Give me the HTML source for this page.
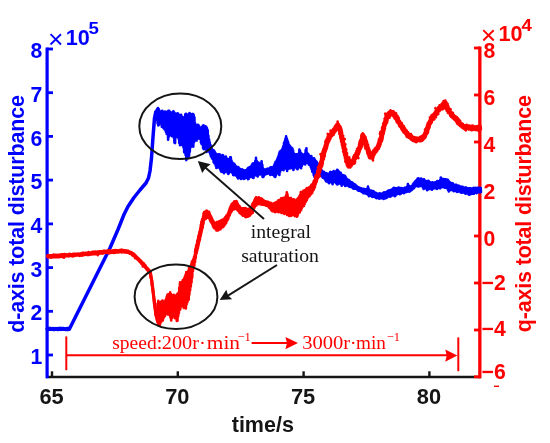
<!DOCTYPE html>
<html><head><meta charset="utf-8"><title>disturbance plot</title>
<style>
html,body{margin:0;padding:0;background:#fff;}
svg{display:block}
.ab{font-family:"Liberation Sans",sans-serif;font-weight:bold;}
.tr{font-family:"Liberation Serif",serif;}
</style></head><body>
<svg width="550" height="443" viewBox="0 0 550 443">
<rect width="550" height="443" fill="#fff"/>
<!-- x axis -->
<g stroke="#151515" stroke-width="2.4" fill="none">
<line x1="46" y1="377" x2="481" y2="377"/>
<line x1="52" y1="371.3" x2="52" y2="377"/>
<line x1="177.8" y1="371.3" x2="177.8" y2="377"/>
<line x1="303.6" y1="371.3" x2="303.6" y2="377"/>
<line x1="429.4" y1="371.3" x2="429.4" y2="377"/>
</g>
<!-- left axis -->
<g stroke="#0000ff" stroke-width="3.2" fill="none">
<line x1="47.1" y1="47.6" x2="47.1" y2="378.2"/>
</g>
<g stroke="#0000ff" stroke-width="2.8" fill="none">
<line x1="47" y1="49" x2="53" y2="49"/>
<line x1="47" y1="92.7" x2="53" y2="92.7"/>
<line x1="47" y1="136.4" x2="53" y2="136.4"/>
<line x1="47" y1="180.1" x2="53" y2="180.1"/>
<line x1="47" y1="223.9" x2="53" y2="223.9"/>
<line x1="47" y1="267.6" x2="53" y2="267.6"/>
<line x1="47" y1="311.3" x2="53" y2="311.3"/>
<line x1="47" y1="355" x2="53" y2="355"/>
</g>
<!-- right axis -->
<g stroke="#ff0000" stroke-width="3.3" fill="none">
<line x1="479.85" y1="46.6" x2="479.85" y2="378.2"/>
</g>
<g stroke="#ff0000" stroke-width="2.8" fill="none">
<line x1="474" y1="48" x2="480" y2="48"/>
<line x1="474" y1="95" x2="480" y2="95"/>
<line x1="474" y1="142" x2="480" y2="142"/>
<line x1="474" y1="189" x2="480" y2="189"/>
<line x1="474" y1="236" x2="480" y2="236"/>
<line x1="474" y1="283" x2="480" y2="283"/>
<line x1="474" y1="330" x2="480" y2="330"/>
<line x1="474" y1="376.8" x2="480" y2="376.8"/>
</g>
<!-- left tick labels -->
<g class="ab" font-size="21.2" fill="#0000ff" text-anchor="end">
<text x="42.3" y="57.7">8</text>
<text x="42.3" y="101.8">7</text>
<text x="42.3" y="145.5">6</text>
<text x="42.3" y="189.2">5</text>
<text x="42.3" y="233.0">4</text>
<text x="42.3" y="276.7">3</text>
<text x="42.3" y="320.4">2</text>
<text x="42.3" y="364.1">1</text>
</g>
<g class="ab" fill="#0000ff">
<text x="48.1" y="47.8" font-size="26.5" font-weight="normal">×</text>
<text x="65.8" y="44.5" font-size="21.6">10</text>
<text x="88.6" y="34.3" font-size="17" textLength="10.4" lengthAdjust="spacingAndGlyphs">5</text>
</g>
<!-- right tick labels -->
<g class="ab" font-size="21.2" fill="#ff0000" text-anchor="start">
<text x="483.6" y="57.6">8</text>
<text x="483.6" y="104.6">6</text>
<text x="483.6" y="151.6">4</text>
<text x="483.6" y="198.6">2</text>
<text x="483.6" y="245.6">0</text>
<text x="481.6" y="290">−2</text>
<text x="481.6" y="336.4">−4</text>
<text x="481.6" y="379.2">−6</text>
</g>
<rect x="494" y="385.6" width="5" height="1.4" fill="#ff0000"/>
<g class="ab" fill="#ff0000">
<text x="480.8" y="43.7" font-size="26.5" font-weight="normal">×</text>
<text x="498.6" y="40.9" font-size="21.6">10</text>
<text x="521.4" y="31" font-size="17" textLength="10.4" lengthAdjust="spacingAndGlyphs">4</text>
</g>
<!-- x tick labels -->
<g class="ab" font-size="21.8" fill="#151515" text-anchor="middle">
<text x="51.5" y="403.6">65</text>
<text x="177.3" y="403.6">70</text>
<text x="303.1" y="403.6">75</text>
<text x="428.9" y="403.6">80</text>
<text x="262.8" y="432.3" font-size="21.5">time/s</text>
</g>
<!-- axis labels -->
<text class="ab" font-size="21.5" fill="#0000ff" text-anchor="middle" textLength="237.8" lengthAdjust="spacing" transform="translate(23.6,213.9) rotate(-90)">d-axis total disturbance</text>
<text class="ab" font-size="21.5" fill="#ff0000" text-anchor="middle" textLength="237.3" lengthAdjust="spacing" transform="translate(530.8,213.6) rotate(-90)">q-axis total disturbance</text>
<!-- curves -->
<polyline fill="none" stroke="#0000ff" stroke-width="3.5" stroke-linejoin="round" points="46.5,329.2 69.3,329.2 110.0,248.0 118.0,229.5 124.0,214.5 128.0,206.5 134.0,197.5 140.0,190.0 146.0,183.0 148.5,178.0 150.0,171.0 151.5,158.0 153.0,137.0 154.5,118.0 156.0,111.0"/>
<polyline fill="none" stroke="#0000ff" stroke-width="2.6" stroke-linejoin="round" points="46.5,329.9 47.0,328.0 47.5,329.7 48.0,328.1 48.5,329.8 49.0,327.9 49.5,329.7 50.0,328.0 50.5,329.4 51.0,328.2 51.5,329.6 52.0,328.3 52.5,329.6 53.0,328.1 53.5,329.8 54.0,328.3 54.5,329.9 55.0,328.3 55.5,329.7 56.0,328.2 56.5,329.6 57.0,328.3 57.5,329.8 58.0,328.2 58.5,329.8 59.0,328.1 59.5,329.7 60.0,327.9 60.5,329.8 61.0,328.0 61.5,329.6 62.0,328.2 62.5,329.6 63.0,328.1 63.5,329.4 64.0,328.1 64.5,329.7 65.0,328.4 65.5,329.8 66.0,328.3 66.5,329.9 67.0,328.1 67.5,329.9 68.0,328.1 68.5,329.8 69.0,328.0 69.5,329.4"/>
<polyline fill="none" stroke="#0000ff" stroke-width="2.6" stroke-linejoin="round" points="155.2,112.8 155.5,118.3 155.9,111.4 156.2,118.9 156.6,110.0 156.9,120.0 157.3,108.7 157.6,123.4 158.0,108.0 158.3,125.5 158.7,109.0 159.0,124.6 159.4,110.6 159.7,122.9 160.1,111.5 160.4,121.9 160.8,111.9 161.1,123.4 161.5,111.5 161.8,126.7 162.2,110.7 162.5,126.3 162.9,111.5 163.2,127.8 163.6,112.8 163.9,128.4 164.3,113.0 164.6,129.2 165.0,111.5 165.3,130.1 165.7,111.8 166.0,131.9 166.4,112.4 166.7,134.0 167.1,112.2 167.4,133.6 167.8,111.4 168.1,139.7 168.5,110.8 168.8,136.8 169.2,110.9 169.5,131.8 169.9,111.9 170.2,131.9 170.6,112.6 170.9,134.8 171.3,112.8 171.6,136.1 172.0,112.5 172.3,135.0 172.7,111.7 173.0,135.6 173.4,111.2 173.7,137.4 174.1,112.4 174.4,142.6 174.8,113.4 175.1,143.1 175.5,113.5 175.8,137.4 176.2,114.0 176.5,135.3 176.9,113.7 177.2,136.0 177.6,113.2 177.9,136.7 178.3,113.9 178.6,138.8 179.0,115.1 179.3,142.9 179.7,115.4 180.0,145.2 180.4,115.0 180.7,144.7 181.1,114.8 181.4,144.0 181.8,116.6 182.1,144.9 182.5,117.7 182.8,145.6 183.2,117.8 183.5,147.6 183.9,117.4 184.2,152.3 184.6,116.8 184.9,152.8 185.3,114.3 185.6,154.9 186.0,113.9 186.3,160.1 186.7,115.0 187.0,157.1 187.4,114.7 187.7,154.7 188.1,114.5 188.4,158.0 188.8,114.1 189.1,155.7 189.5,113.1 189.8,151.8 190.2,113.7 190.5,147.5 190.9,114.5 191.2,145.3 191.6,114.2 191.9,144.5 192.3,114.1 192.6,146.5 193.0,114.0 193.3,146.6 193.7,114.8 194.0,142.3 194.4,117.3 194.7,139.1 195.1,123.4 195.4,139.1 195.8,124.9 196.1,140.4 196.5,125.2 196.8,140.4 197.2,125.1 197.5,138.7 197.9,124.8 198.2,138.1 198.6,125.2 198.9,138.5 199.3,126.6 199.6,138.8 200.0,127.7 200.3,139.0 200.7,127.7 201.0,142.7 201.4,127.5 201.7,144.3 202.1,127.0 202.4,144.5 202.8,125.9 203.1,148.2 203.5,125.2 203.8,149.2 204.2,126.8 204.5,147.3 204.9,126.6 205.2,145.5 205.6,126.3 205.9,148.6 206.3,127.1 206.6,151.9 207.0,128.2 207.3,150.8 207.7,130.4 208.0,149.8 208.4,135.7 208.7,151.0 209.1,139.6 209.4,152.0 209.8,142.6 210.1,153.7 210.5,145.1 210.8,155.9 211.2,146.5 211.5,157.1 211.9,148.8 212.2,158.5 212.6,150.2 212.9,159.3 213.3,150.3 213.6,161.9 214.0,150.5 214.3,163.2 214.7,151.7 215.0,163.2 215.4,153.1 215.7,165.6 216.1,154.2 216.4,168.0 216.8,154.4 217.1,167.8 217.5,154.7 217.8,166.6 218.2,155.1 218.5,166.6 218.9,154.3 219.2,167.3 219.6,154.4 219.9,168.6 220.3,155.5 220.6,170.5 221.0,156.1 221.3,171.7 221.7,156.3 222.0,170.7 222.4,155.1 222.7,170.3 223.1,155.4 223.4,172.4 223.8,156.9 224.1,173.2 224.5,157.3 224.8,171.9 225.2,157.0 225.5,171.3 225.9,156.5 226.2,171.4 226.6,158.3 226.9,171.5 227.3,159.1 227.6,172.8 228.0,159.5 228.3,174.0 228.7,159.6 229.0,172.9 229.4,159.6 229.7,171.5 230.1,157.3 230.4,171.2 230.8,157.3 231.1,171.8 231.5,160.6 231.8,172.1 232.2,162.3 232.5,173.3 232.9,163.3 233.2,174.9 233.6,163.7 233.9,175.1 234.3,163.8 234.6,174.6 235.0,165.0 235.3,174.9 235.7,166.0 236.0,175.4 236.4,166.7 236.7,176.0 237.1,167.0 237.4,177.5 237.8,167.0 238.1,178.4 238.5,167.4 238.8,177.6 239.2,168.6 239.5,177.1 239.9,168.9 240.2,177.8 240.6,169.3 240.9,179.0 241.3,169.7 241.6,177.8 242.0,169.4 242.3,177.7 242.7,169.7 243.0,178.1 243.4,170.6 243.7,178.9 244.1,170.5 244.4,178.7 244.8,170.5 245.1,178.0 245.5,170.3 245.8,177.8 246.2,170.2 246.5,177.7 246.9,169.7 247.2,178.0 247.6,168.6 247.9,179.1 248.3,167.7 248.6,179.0 249.0,167.6 249.3,177.6 249.7,167.7 250.0,177.0 250.4,166.9 250.7,176.7 251.1,166.3 251.4,176.7 251.8,165.4 252.1,176.9 252.5,163.9 252.8,177.7 253.2,163.4 253.5,177.9 253.9,163.7 254.2,176.3 254.6,163.3 254.9,174.9 255.3,161.0 255.6,174.3 256.0,157.9 256.3,174.0 256.7,161.0 257.0,175.6 257.4,162.9 257.7,176.4 258.1,162.6 258.4,174.7 258.8,162.7 259.1,174.4 259.5,163.6 259.8,174.4 260.2,164.6 260.5,174.2 260.9,163.9 261.2,174.1 261.6,161.3 261.9,174.7 262.3,164.9 262.6,177.0 263.0,168.4 263.3,176.9 263.7,169.4 264.0,175.6 264.4,169.6 264.7,174.9 265.1,169.5 265.4,174.3 265.8,169.6 266.1,173.8 266.5,169.2 266.8,174.0 267.2,168.8 267.5,173.6 267.9,168.8 268.2,173.2 268.6,168.9 268.9,173.4 269.3,168.5 269.6,173.7 270.0,167.8 270.3,174.9 270.7,167.3 271.0,174.3 271.4,167.3 271.7,174.2 272.1,167.4 272.4,174.6 272.8,167.0 273.1,174.8 273.5,166.8 273.8,175.4 274.2,165.4 274.5,176.4 274.9,163.4 275.2,177.0 275.6,161.9 275.9,175.5 276.3,161.2 276.6,173.3 277.0,159.7 277.3,172.8 277.7,158.1 278.0,172.3 278.4,156.2 278.7,174.1 279.1,153.6 279.4,175.0 279.8,151.7 280.1,171.8 280.5,151.0 280.8,169.7 281.2,151.1 281.5,169.8 281.9,150.1 282.2,169.0 282.6,148.3 282.9,169.2 283.3,146.3 283.6,170.2 284.0,143.1 284.3,167.9 284.7,141.4 285.0,166.0 285.4,138.8 285.7,166.5 286.1,136.2 286.4,168.9 286.8,138.6 287.1,171.0 287.5,140.5 287.8,169.1 288.2,142.3 288.5,166.5 288.9,144.8 289.2,165.6 289.6,145.6 289.9,168.5 290.3,146.6 290.6,167.7 291.0,147.6 291.3,165.8 291.7,147.8 292.0,166.3 292.4,148.5 292.7,168.7 293.1,150.6 293.4,169.9 293.8,153.3 294.1,168.2 294.5,154.4 294.8,167.3 295.2,155.0 295.5,167.0 295.9,154.4 296.2,167.2 296.6,154.3 296.9,168.7 297.3,155.6 297.6,169.1 298.0,155.5 298.3,166.9 298.7,153.5 299.0,166.8 299.4,149.5 299.7,166.8 300.1,151.1 300.4,167.8 300.8,153.8 301.1,168.1 301.5,153.5 301.8,165.9 302.2,154.4 302.5,164.1 302.9,155.2 303.2,163.8 303.6,154.9 303.9,163.8 304.3,154.7 304.6,164.2 305.0,153.7 305.3,164.4 305.7,150.1 306.0,163.0 306.4,148.2 306.7,162.2 307.1,152.8 307.4,162.4 307.8,153.8 308.1,163.1 308.5,154.4 308.8,164.5 309.2,155.8 309.5,165.0 309.9,156.5 310.2,165.5 310.6,156.6 310.9,167.1 311.3,156.1 311.6,169.2 312.0,157.8 312.3,171.6 312.7,158.7 313.0,171.6 313.4,158.7 313.7,175.1 314.1,158.4 314.4,176.7 314.8,159.5 315.1,174.3 315.5,160.7 315.8,173.2 316.2,161.2 316.5,172.9 316.9,162.3 317.2,173.4 317.6,163.2 317.9,173.9 318.3,164.4 318.6,175.2 319.0,166.0 319.3,176.4 319.7,167.4 320.0,175.9 320.4,168.4 320.7,175.4 321.1,169.4 321.4,175.8 321.8,170.5 322.1,176.5 322.5,171.4 322.8,177.7 323.2,171.5 323.5,177.9 323.9,171.9 324.2,178.3 324.6,173.1 324.9,179.3 325.3,173.2 325.6,180.4 326.0,173.0 326.3,181.4 326.7,173.4 327.0,181.4 327.4,173.9 327.7,181.4 328.1,174.2 328.4,182.5 328.8,173.7 329.1,183.3 329.5,173.3 329.8,182.0 330.2,172.0 330.5,181.8 330.9,172.1 331.2,181.7 331.6,172.7 331.9,182.8 332.3,172.6 332.6,184.1 333.0,171.9 333.3,182.5 333.7,171.0 334.0,181.6 334.4,171.5 334.7,181.5 335.1,171.9 335.4,182.0 335.8,171.5 336.1,183.0 336.5,170.7 336.8,184.2 337.2,169.9 337.5,184.4 337.9,170.3 338.2,183.8 338.6,171.3 338.9,183.2 339.3,172.4 339.6,183.4 340.0,172.8 340.3,183.5 340.7,172.8 341.0,184.2 341.4,174.2 341.7,185.8 342.1,175.0 342.4,184.8 342.8,175.3 343.1,183.8 343.5,175.4 343.8,183.9 344.2,175.6 344.5,184.5 344.9,175.9 345.2,185.9 345.6,176.8 345.9,185.8 346.3,178.2 346.6,185.0 347.0,179.2 347.3,185.3 347.7,179.7 348.0,185.6 348.4,179.8 348.7,186.1 349.1,180.3 349.4,186.8 349.8,181.2 350.1,186.9 350.5,181.8 350.8,186.7 351.2,182.0 351.5,187.0 351.9,182.3 352.2,187.5 352.6,182.8 352.9,188.3 353.3,183.6 353.6,188.8 354.0,184.1 354.3,188.6 354.7,184.4 355.0,188.5 355.4,184.8 355.7,188.7 356.1,185.5 356.4,189.0 356.8,186.2 357.1,189.4 357.5,186.7 357.8,190.1 358.2,187.1 358.5,190.6 358.9,187.6 359.2,190.6 359.6,188.0 359.9,190.7 360.3,188.0 360.6,191.1 361.0,188.3 361.3,191.5 361.7,188.7 362.0,191.8 362.4,188.9 362.7,192.5 363.1,189.0 363.4,193.1 363.8,188.9 364.1,193.2 364.5,189.2 364.8,193.2 365.2,189.4 365.5,193.4 365.9,189.6 366.2,193.7 366.6,189.5 366.9,193.9 367.3,188.5 367.6,194.1 368.0,186.5 368.3,195.3 368.7,188.9 369.0,196.1 369.4,190.2 369.7,195.7 370.1,190.5 370.4,195.3 370.8,190.6 371.1,195.7 371.5,190.9 371.8,196.4 372.2,191.1 372.5,197.0 372.9,191.0 373.2,196.7 373.6,191.2 373.9,196.5 374.3,192.2 374.6,196.7 375.0,192.7 375.3,197.1 375.7,192.9 376.0,197.8 376.4,193.1 376.7,198.2 377.1,193.5 377.4,197.9 377.8,193.8 378.1,197.8 378.5,193.9 378.8,198.4 379.2,193.7 379.5,198.6 379.9,193.4 380.2,198.0 380.6,193.6 380.9,198.1 381.3,193.9 381.6,198.1 382.0,193.7 382.3,198.0 382.7,193.4 383.0,198.2 383.4,192.9 383.7,199.0 384.1,192.4 384.4,198.0 384.8,192.5 385.1,197.5 385.5,192.4 385.8,198.1 386.2,192.1 386.5,198.0 386.9,191.8 387.2,197.1 387.6,191.1 387.9,196.6 388.3,190.5 388.6,196.3 389.0,190.6 389.3,196.1 389.7,190.4 390.0,196.6 390.4,190.1 390.7,196.4 391.1,189.8 391.4,195.6 391.8,189.6 392.1,195.4 392.5,189.1 392.8,195.3 393.2,188.3 393.5,195.3 393.9,187.8 394.2,195.8 394.6,188.2 394.9,196.3 395.3,188.3 395.6,195.4 396.0,188.4 396.3,194.5 396.7,188.4 397.0,194.1 397.4,188.2 397.7,193.8 398.1,187.9 398.4,193.7 398.8,187.5 399.1,193.7 399.5,187.8 399.8,194.1 400.2,188.2 400.5,194.0 400.9,188.2 401.2,193.3 401.6,188.0 401.9,192.7 402.3,188.3 402.6,192.6 403.0,188.6 403.3,192.8 403.7,188.5 404.0,193.2 404.4,188.1 404.7,192.7 405.1,187.6 405.4,192.1 405.8,187.8 406.1,192.0 406.5,187.8 406.8,191.9 407.2,186.7 407.5,191.4 407.9,184.0 408.2,191.2 408.6,185.6 408.9,191.5 409.3,186.9 409.6,191.7 410.0,186.6 410.3,190.9 410.7,186.5 411.0,190.5 411.4,186.5 411.7,190.2 412.1,186.1 412.4,189.3 412.8,184.6 413.1,188.7 413.5,183.5 413.8,188.4 414.2,182.8 414.5,187.4 414.9,181.9 415.2,186.7 415.6,181.1 415.9,186.0 416.3,180.3 416.6,185.8 417.0,179.6 417.3,185.9 417.7,178.5 418.0,186.5 418.4,178.2 418.7,186.5 419.1,179.0 419.4,186.1 419.8,179.3 420.1,185.9 420.5,178.9 420.8,185.8 421.2,178.6 421.5,186.0 421.9,179.3 422.2,186.3 422.6,179.7 422.9,187.5 423.3,179.6 423.6,188.9 424.0,179.4 424.3,188.4 424.7,180.2 425.0,187.8 425.4,180.8 425.7,188.1 426.1,181.0 426.4,188.6 426.8,181.2 427.1,190.1 427.5,181.1 427.8,189.6 428.2,180.7 428.5,189.0 428.9,181.4 429.2,189.0 429.6,182.1 429.9,188.9 430.3,182.2 430.6,188.9 431.0,182.5 431.3,189.0 431.7,182.6 432.0,189.8 432.4,182.4 432.7,188.9 433.1,182.7 433.4,188.3 433.8,182.9 434.1,188.3 434.5,182.7 434.8,188.1 435.2,182.4 435.5,188.0 435.9,182.2 436.2,188.2 436.6,181.8 436.9,188.9 437.3,181.1 437.6,188.3 438.0,181.2 438.3,187.6 438.7,181.4 439.0,187.3 439.4,181.0 439.7,188.3 440.1,180.0 440.4,188.2 440.8,177.5 441.1,186.8 441.5,178.3 441.8,187.0 442.2,180.0 442.5,186.9 442.9,179.6 443.2,186.7 443.6,179.1 443.9,186.8 444.3,179.4 444.6,187.8 445.0,179.2 445.3,187.8 445.7,179.2 446.0,187.2 446.4,179.8 446.7,187.7 447.1,179.9 447.4,188.5 447.8,179.8 448.1,189.9 448.5,180.7 448.8,191.5 449.2,181.8 449.5,190.4 449.9,182.3 450.2,189.7 450.6,182.8 450.9,189.9 451.3,183.2 451.6,189.9 452.0,183.3 452.3,189.9 452.7,183.4 453.0,190.4 453.4,184.3 453.7,191.1 454.1,184.7 454.4,190.9 454.8,185.0 455.1,190.5 455.5,184.9 455.8,190.7 456.2,184.8 456.5,191.5 456.9,185.3 457.2,191.9 457.6,185.9 457.9,191.5 458.3,185.9 458.6,191.1 459.0,185.8 459.3,191.4 459.7,186.2 460.0,191.6 460.4,186.6 460.7,192.4 461.1,186.9 461.4,192.8 461.8,186.9 462.1,192.4 462.5,186.7 462.8,192.3 463.2,187.2 463.5,192.4 463.9,187.7 464.2,192.5 464.6,187.9 464.9,193.2 465.3,187.6 465.6,193.7 466.0,187.6 466.3,193.2 466.7,188.0 467.0,193.1 467.4,188.4 467.7,193.4 468.1,188.4 468.4,194.3 468.8,188.6 469.1,194.8 469.5,188.4 469.8,194.3 470.2,188.2 470.5,194.2 470.9,188.6 471.2,193.9 471.6,188.6 471.9,193.6 472.3,188.6 472.6,193.4 473.0,188.3 473.3,193.6 473.7,187.8 474.0,193.7 474.4,188.0 474.7,192.8 475.1,188.1 475.4,192.4 475.8,188.1 476.1,192.7 476.5,188.1 476.8,193.1 477.2,188.1 477.5,192.7 477.9,187.8 478.2,192.3 478.6,187.7 478.9,192.3 479.3,188.0 479.6,192.3 480.0,188.1 480.3,192.4 480.7,188.1 481.0,192.8"/>
<polyline fill="none" stroke="#ff0000" stroke-width="3.0" stroke-linejoin="round" points="47.0,256.5 80.0,254.5 106.0,252.0 124.0,251.0 130.0,252.5 134.0,255.0 140.0,261.0 144.0,265.0 148.0,270.0 150.2,272.5 151.5,279.0 153.0,291.0 155.8,314.0 158.0,322.0 159.4,325.5"/>
<polyline fill="none" stroke="#ff0000" stroke-width="3.6" stroke-linejoin="round" points="195.5,253.0 197.0,247.0 200.0,234.0 203.0,220.5 205.0,214.5 206.5,213.5"/>
<polyline fill="none" stroke="#ff0000" stroke-width="4.0" stroke-linejoin="round" points="312.0,189.0 315.0,182.5 318.0,174.0 321.0,164.0 324.0,152.0 327.0,142.0 330.0,136.0 334.0,131.0 336.7,126.5 338.0,125.0 339.3,127.5 341.0,134.0 344.0,148.0 347.0,160.0 348.6,165.5 350.0,165.5 352.0,163.0 356.0,156.0 360.0,147.0 362.0,138.5 363.0,135.0 364.0,137.5 366.0,144.0 369.0,153.0 370.6,156.8 372.0,156.5 374.0,153.0 378.0,147.0 381.0,139.0 384.0,126.0 387.0,116.5 390.0,113.5 393.0,113.0 396.0,117.0 400.0,124.0 404.0,130.0 408.0,135.0 412.0,138.0 416.0,140.0 420.0,139.3 424.0,137.0 427.0,130.0 430.0,122.0 434.0,115.0 438.0,110.0 442.0,107.0 444.0,104.0 445.0,102.5 446.0,104.5 448.0,110.0 452.0,115.0 456.0,119.0 460.0,124.0 464.0,127.0 468.0,127.3 472.0,128.0 481.2,128.0"/>
<polyline fill="none" stroke="#ff0000" stroke-width="2.6" stroke-linejoin="round" points="47.0,257.7 47.5,255.2 48.0,257.5 48.5,255.2 49.0,257.3 49.5,255.4 50.0,257.4 50.5,255.3 51.0,257.7 51.5,255.2 52.0,257.4 52.5,255.3 53.0,257.2 53.5,254.5 54.0,257.1 54.5,254.9 55.0,257.2 55.5,254.8 56.0,257.2 56.5,254.9 57.0,257.1 57.5,254.9 58.0,257.2 58.5,254.7 59.0,257.2 59.5,254.8 60.0,256.6 60.5,254.5 61.0,256.9 61.5,254.3 62.0,256.9 62.5,254.3 63.0,256.6 63.5,254.2 64.0,257.8 64.5,254.1 65.0,256.6 65.5,254.2 66.0,256.3 66.5,254.5 67.0,256.2 67.5,254.5 68.0,256.2 68.5,254.5 69.0,256.3 69.4,253.7 70.0,255.9 70.4,254.1 71.0,255.9 71.4,254.2 72.0,256.2 72.4,254.0 73.0,256.4 73.4,253.7 74.0,256.0 74.4,253.7 75.0,255.5 75.4,253.8 76.0,255.7 76.4,253.8 77.0,255.4 77.4,253.9 77.9,255.2 78.4,253.6 79.0,255.7 79.4,253.7 80.0,255.8 80.4,253.6 81.0,255.5 81.4,253.3 82.0,255.7 82.4,252.8 82.9,255.3 83.4,252.7 83.9,255.1 84.4,253.0 84.9,255.0 85.4,252.8 85.9,254.6 86.4,252.9 86.9,254.8 87.4,252.9 87.9,254.9 88.4,252.0 88.9,254.9 89.4,252.5 89.9,254.5 90.4,252.6 90.9,254.6 91.4,252.2 91.9,254.5 92.4,251.9 92.9,254.2 93.4,251.8 93.9,254.1 94.4,251.8 94.9,254.2 95.3,251.6 95.9,254.3 96.3,251.7 96.9,254.1 97.3,251.5 97.9,255.2 98.3,251.6 98.9,253.8 99.3,251.3 99.9,253.6 100.3,251.2 100.9,253.3 101.3,251.3 101.9,253.4 102.3,251.6 102.9,253.6 103.3,250.9 103.8,253.1 104.3,250.8 104.8,252.7 105.3,250.9 105.8,252.8 106.3,250.9 106.8,252.8 107.3,250.6 107.8,252.9 108.3,250.6 108.8,253.2 109.3,250.4 109.8,253.1 110.3,250.5 110.8,252.9 111.3,250.7 111.8,252.8 112.3,250.5 112.8,252.8 113.3,250.3 113.8,253.0 114.3,250.3 114.8,252.8 115.3,250.1 115.8,252.7 116.3,250.2 116.8,252.2 117.3,250.4 117.8,252.4 118.3,250.4 118.8,252.3 119.3,250.3 119.8,252.2 120.3,249.9 120.8,251.9 121.3,249.7 121.8,252.5 122.3,249.9 122.8,252.1 123.3,250.2 123.8,252.3 124.3,250.2 124.7,252.5 125.3,250.7 125.7,252.4 126.3,250.4 126.7,252.8 127.2,250.7 127.6,252.8 128.2,250.8 128.6,252.9 129.2,251.6 129.5,253.6 130.1,251.8 130.5,253.6 131.0,252.0 131.3,254.2 131.9,252.4 132.1,255.1 132.7,253.3 132.9,255.6 133.6,253.5 133.8,256.0 134.4,254.3 134.5,256.9 135.1,254.8 135.1,258.3 135.8,255.8 135.9,258.2 136.5,256.5 136.7,258.5 137.2,257.2 137.4,259.3 137.9,257.8 138.1,260.0 138.7,258.4 138.8,260.7 139.4,259.1 139.5,261.6 140.1,259.8 140.2,262.2 140.8,260.4 140.9,263.1 141.5,261.2 141.5,264.0 142.2,262.2 142.2,264.8 142.9,262.7 142.8,266.5 143.6,263.1 143.7,266.0 144.3,264.0 144.4,266.4 144.9,265.1 145.0,267.3 145.6,265.5 145.6,267.9 146.1,266.7 146.2,268.9 146.8,267.6 146.8,269.8 147.4,268.1 147.5,270.2 148.1,268.7 148.1,271.4 148.7,269.3 148.8,271.9 149.4,270.0 149.5,272.4 150.1,270.9 150.0,274.0 150.5,272.1 150.2,274.6 150.7,273.0 150.4,275.7 150.9,273.8 150.5,277.1 151.1,274.8 150.7,278.0 151.2,276.1 151.0,278.2 151.4,277.2 151.2,279.2 151.6,278.3 151.4,280.4 151.8,278.9 151.5,281.3 151.9,279.9 151.6,282.4 152.1,280.8 151.7,283.5 152.2,281.8 151.7,284.9 152.3,283.0 152.0,285.3 152.4,284.2 152.1,286.3 152.5,284.9 152.3,287.1 152.6,286.0 152.4,288.0 152.8,286.9 152.5,289.4 153.0,287.2 152.6,290.3 153.1,288.6 152.7,291.2 153.2,289.7 152.9,292.1 153.3,290.6 153.0,293.2 153.4,291.8 153.1,294.3 153.5,293.0 153.3,295.0 153.6,293.9 153.4,296.0 153.7,294.9 153.5,297.2 153.9,295.9 153.6,298.2 154.0,296.9 153.7,299.3 154.1,298.0 153.8,300.3 154.2,298.9 153.9,301.2 154.4,299.5 154.0,302.4 154.6,300.4 154.1,303.8 154.6,301.8 154.3,304.1 154.7,303.0 154.4,305.4 154.9,303.5 154.5,306.4 155.0,304.7 154.7,307.1 155.1,305.8 154.8,308.0 155.3,306.4 154.9,309.1 155.4,307.6 155.1,309.8 155.5,308.7 155.2,310.9 155.6,309.6 155.2,312.2 155.7,310.6 155.4,313.1 155.8,311.7 155.5,314.2 156.0,312.5 155.6,315.3 156.2,313.6 155.9,316.4 156.5,314.3 156.2,317.0 156.7,315.7 156.4,318.2 156.9,316.8 156.7,319.2 157.2,317.7 156.9,320.2 157.5,318.5 157.3,320.8 157.7,319.5 157.5,321.8 158.0,320.2 157.9,322.4 158.3,321.4 158.2,323.6 158.8,321.6 158.5,324.4 159.0,323.2 158.9,325.4 159.4,324.1"/>
<polyline fill="none" stroke="#ff0000" stroke-width="2.6" stroke-linejoin="round" points="157.6,302.7 157.9,322.4 158.3,300.9 158.6,323.8 159.0,302.1 159.3,324.6 159.7,302.5 160.0,324.8 160.4,302.3 160.7,322.5 161.1,301.7 161.4,321.4 161.8,301.0 162.1,320.7 162.5,300.6 162.8,320.5 163.2,302.3 163.5,318.2 163.9,302.4 164.2,316.3 164.6,301.3 164.9,316.1 165.3,300.6 165.6,314.2 166.0,299.2 166.3,313.6 166.7,296.8 167.0,312.8 167.4,294.7 167.7,314.4 168.1,294.3 168.4,314.5 168.8,294.9 169.1,314.3 169.5,293.8 169.8,315.6 170.2,292.4 170.5,317.8 170.9,294.0 171.2,320.4 171.6,295.0 171.9,317.9 172.3,295.6 172.6,315.9 173.0,295.4 173.3,315.2 173.7,294.7 174.0,315.9 174.4,296.1 174.7,318.1 175.1,296.8 175.4,316.8 175.8,296.8 176.1,318.4 176.5,294.7 176.8,320.9 177.2,294.0 177.5,320.8 177.9,294.6 178.2,316.2 178.6,292.6 178.9,313.1 179.3,287.6 179.6,310.1 180.0,282.4 180.3,309.2 180.7,283.4 181.0,305.0 181.4,282.9 181.7,305.5 182.1,281.9 182.4,306.2 182.8,280.1 183.1,305.2 183.5,279.9 183.8,307.9 184.2,278.3 184.5,306.7 184.9,276.6 185.2,306.0 185.6,274.5 185.9,308.4 186.3,272.0 186.6,304.6 187.0,274.0 187.3,302.6 187.7,272.2 188.0,300.4 188.4,270.6 188.7,299.7 189.1,267.1 189.4,294.6 189.8,267.9 190.1,290.6 190.5,266.7 190.8,286.6 191.2,264.3 191.5,282.6 191.9,261.5 192.2,277.7 192.6,260.7 192.9,271.2 193.3,259.2 193.6,268.5 194.0,257.1 194.3,265.8 194.7,254.7 195.0,262.1 195.4,251.9 195.7,258.0 196.1,250.1 196.4,254.7"/>
<polyline fill="none" stroke="#ff0000" stroke-width="2.6" stroke-linejoin="round" points="196.4,253.7 195.0,252.0 196.4,252.6 195.3,251.1 196.7,251.7 195.4,250.0 197.2,250.9 195.5,248.9 197.4,249.8 195.8,248.0 197.5,248.8 196.1,247.0 198.0,248.0 196.1,245.9 198.1,246.9 196.4,245.0 198.3,245.9 196.8,244.2 198.5,244.9 197.1,243.3 198.7,243.9 197.2,242.2 198.9,243.0 197.2,241.1 199.2,242.0 197.5,240.1 199.3,241.0 198.0,239.3 199.7,240.1 198.2,238.3 200.0,239.2 198.2,237.2 200.1,238.2 198.4,236.2 200.2,237.1 198.6,235.2 200.5,236.1 199.0,234.4 200.8,235.2 199.2,233.4 201.0,234.2 199.6,232.6 201.2,233.2 199.6,231.4 201.4,232.2 200.0,230.6 201.6,231.3 200.1,229.5 201.9,230.3 200.4,228.6 202.1,229.3 200.5,227.6 202.3,228.3 200.8,226.7 202.7,227.5 200.7,225.4 202.8,226.4 201.0,224.5 202.8,225.3 201.2,223.5 203.1,224.4 201.3,222.5 203.5,223.6 201.5,221.5 203.5,222.5 201.9,220.6 203.5,221.3 202.2,219.6 203.9,220.5 202.5,218.6 204.4,219.7 203.2,218.0 204.7,218.8 203.1,216.7 205.0,217.8 203.6,215.9 205.4,217.0 204.0,215.0 205.7,216.3 204.4,214.0 206.1,215.4 205.0,213.1 206.6,214.7"/>
<polyline fill="none" stroke="#ff0000" stroke-width="2.6" stroke-linejoin="round" points="203.5,212.5 203.8,220.5 204.2,212.1 204.5,219.5 204.9,211.7 205.2,218.7 205.6,211.4 205.9,218.7 206.3,210.8 206.6,217.7 207.0,210.8 207.3,217.8 207.7,211.6 208.0,217.8 208.4,211.9 208.7,217.7 209.1,211.7 209.4,218.7 209.8,213.9 210.1,220.8 210.5,215.5 210.8,221.7 211.2,216.6 211.5,223.0 211.9,218.3 212.2,224.2 212.6,219.9 212.9,225.9 213.3,221.0 213.6,227.5 214.0,222.1 214.3,228.2 214.7,223.2 215.0,228.5 215.4,223.1 215.7,229.3 216.1,222.9 216.4,230.4 216.8,222.1 217.1,230.1 217.5,222.2 217.8,230.5 218.2,222.4 218.5,230.2 218.9,221.4 219.2,229.3 219.6,221.0 219.9,229.1 220.3,221.0 220.6,229.1 221.0,220.6 221.3,228.0 221.7,220.0 222.0,227.3 222.4,220.0 222.7,227.1 223.1,219.6 223.4,226.7 223.8,219.1 224.1,225.7 224.5,218.3 224.8,224.6 225.2,217.4 225.5,223.6 225.9,216.6 226.2,222.9 226.6,215.3 226.9,221.0 227.3,214.9 227.6,220.0 228.0,213.4 228.3,218.6 228.7,211.6 229.0,216.5 229.4,209.4 229.7,215.1 230.1,207.4 230.4,213.5 230.8,206.1 231.1,212.0 231.5,204.4 231.8,211.2 232.2,203.8 232.5,209.9 232.9,203.0 233.2,209.3 233.6,202.5 233.9,209.5 234.3,201.2 234.6,208.9 235.0,201.5 235.3,208.0 235.7,201.7 236.0,207.7 236.4,201.0 236.7,209.1 237.1,202.4 237.4,210.3 237.8,204.1 238.1,210.7 238.5,205.2 238.8,211.4 239.2,205.8 239.5,212.7 239.9,206.5 240.2,213.1 240.6,207.7 240.9,213.6 241.3,208.5 241.6,214.3 242.0,209.0 242.3,215.2 242.7,208.3 243.0,215.7 243.4,208.4 243.7,215.7 244.1,208.4 244.4,216.0 244.8,208.5 245.1,216.6 245.5,208.1 245.8,217.1 246.2,208.7 246.5,216.7 246.9,209.3 247.2,216.7 247.6,209.1 247.9,216.7 248.3,209.3 248.6,215.8 249.0,208.9 249.3,215.9 249.7,208.3 250.0,215.5 250.4,207.8 250.7,214.4 251.1,207.2 251.4,213.7 251.8,205.5 252.1,213.0 252.5,203.7 252.8,212.7 253.2,202.7 253.5,210.3 253.9,201.5 254.2,208.3 254.6,199.9 254.9,206.6 255.3,198.3 255.6,205.6 256.0,197.4 256.3,205.4 256.7,197.8 257.0,204.4 257.4,198.0 257.7,204.1 258.1,197.6 258.4,203.9 258.8,197.4 259.1,203.8 259.5,198.0 259.8,204.3 260.2,198.3 260.5,204.2 260.9,198.3 261.2,204.1 261.6,198.6 261.9,204.6 262.3,199.4 262.6,204.7 263.0,199.9 263.3,204.6 263.7,200.2 264.0,205.0 264.4,201.1 264.7,204.8 265.1,201.4 265.4,205.2 265.8,201.3 266.1,205.6 266.5,201.5 266.8,205.6 267.2,201.9 267.5,205.6 267.9,201.7 268.2,206.4 268.6,202.0 268.9,207.4 269.3,202.7 269.6,207.9 270.0,203.1 270.3,208.8 270.7,202.9 271.0,209.7 271.4,203.4 271.7,210.8 272.1,203.8 272.4,211.2 272.8,203.8 273.1,210.9 273.5,203.5 273.8,211.2 274.2,203.1 274.5,211.8 274.9,203.4 275.2,212.2 275.6,202.7 275.9,211.5 276.3,202.1 276.6,211.4 277.0,202.3 277.3,211.5 277.7,201.6 278.0,212.0 278.4,200.2 278.7,212.2 279.1,200.3 279.4,211.5 279.8,200.3 280.1,211.2 280.5,199.2 280.8,212.2 281.2,198.2 281.5,213.0 281.9,199.0 282.2,212.1 282.6,198.0 282.9,212.6 283.3,197.7 283.6,213.3 284.0,198.3 284.3,214.0 284.7,198.2 285.0,213.1 285.4,197.0 285.7,212.5 286.1,195.5 286.4,213.2 286.8,192.3 287.1,215.0 287.5,194.3 287.8,213.9 288.2,197.4 288.5,213.9 288.9,198.1 289.2,215.9 289.6,198.4 289.9,215.9 290.3,198.1 290.6,215.0 291.0,198.0 291.3,215.6 291.7,199.2 292.0,215.1 292.4,200.1 292.7,214.4 293.1,200.2 293.4,214.3 293.8,199.3 294.1,215.3 294.5,199.5 294.8,216.1 295.2,200.4 295.5,215.6 295.9,200.9 296.2,215.8 296.6,200.6 296.9,216.7 297.3,199.1 297.6,215.8 298.0,198.4 298.3,213.2 298.7,197.6 299.0,212.8 299.4,196.2 299.7,212.4 300.1,195.0 300.4,210.2 300.8,192.1 301.1,210.1 301.5,193.2 301.8,208.1 302.2,192.6 302.5,206.6 302.9,191.2 303.2,205.6 303.6,190.5 303.9,205.9 304.3,190.8 304.6,204.3 305.0,190.1 305.3,202.1 305.7,189.7 306.0,201.5 306.4,188.6 306.7,200.3 307.1,188.0 307.4,198.5 307.8,188.7 308.1,197.2 308.5,188.2 308.8,196.4 309.2,187.2 309.5,196.2 309.9,186.7 310.2,194.8 310.6,186.7 310.9,194.1 311.3,186.0 311.6,193.5 312.0,185.0 312.3,192.7 312.7,184.3 313.0,190.8 313.4,182.9 313.7,189.0 314.1,181.9 314.4,187.5 314.8,180.9"/>
<polyline fill="none" stroke="#ff0000" stroke-width="2.6" stroke-linejoin="round" points="313.2,190.4 311.1,187.3 313.7,189.6 311.5,186.3 314.1,188.7 311.4,184.8 314.5,187.8 312.6,184.8 315.0,186.9 312.9,183.8 314.9,185.5 313.4,183.0 315.5,184.7 313.7,181.9 315.7,183.5 313.9,180.9 316.1,182.6 314.5,180.2 316.6,181.8 315.0,179.5 316.9,180.8 315.1,178.3 317.1,179.7 315.0,176.9 317.2,178.5 315.7,176.3 318.0,178.0 315.8,175.1 318.1,176.9 316.6,174.7 318.3,175.8 317.1,173.9 319.8,176.0 317.1,172.7 319.1,174.1 317.3,171.7 319.4,173.1 317.4,170.5 319.9,172.4 317.8,169.7 320.2,171.4 318.3,169.0 320.4,170.3 317.8,167.2 320.7,169.4 318.7,166.9 320.7,168.2 319.0,165.9 321.3,167.5 319.6,165.3 321.6,166.5 319.6,164.1 322.2,165.9 319.8,163.0 322.4,164.8 320.2,162.2 322.6,163.8 320.6,161.4 322.9,162.9 320.9,160.5 322.7,161.6 321.0,159.3 323.0,160.6 321.2,158.4 323.5,159.9 321.2,157.1 323.9,159.0 321.3,156.0 324.0,157.9 320.4,154.1 324.3,157.0 321.9,154.3 324.7,156.2 322.3,153.4 324.7,155.0 322.4,152.3 324.9,154.0 322.7,151.3 325.0,153.0 323.1,150.5 325.4,152.0 323.3,149.5 325.7,151.1 323.7,148.5 326.1,150.4 324.1,147.8 326.3,149.3 324.6,147.0 326.8,148.5 324.7,145.9 327.0,147.5 325.0,144.9 327.2,146.4 325.4,144.0 327.5,145.5 325.5,142.9 327.7,144.5 325.4,141.5 327.8,143.4 325.8,140.5 328.4,142.8 326.4,139.8 328.7,141.8 326.8,138.7 329.3,141.1 327.4,138.0 329.6,140.0 327.6,136.9 330.2,139.3 328.0,135.8 330.5,138.3 327.7,133.8 330.7,137.2 329.3,134.4 331.4,136.6 330.0,133.6 332.1,136.1 330.7,132.8 332.7,135.3 330.5,130.7 333.6,134.8 331.7,131.0 334.0,133.8 332.4,130.3 334.6,132.8 333.0,129.5 335.0,131.6 333.5,128.7 335.8,131.2 334.3,128.4 336.3,130.3 334.6,127.1 336.5,129.0 335.0,126.2 337.0,128.1 335.7,125.5 337.5,127.4 336.4,124.3 338.3,128.4 337.6,121.5 337.8,127.1 338.9,124.1 337.7,127.6 339.6,125.6 337.8,128.3 340.3,126.3 338.2,129.2 340.8,127.2 338.6,129.9 340.9,128.3 338.9,130.7 341.4,129.1 339.2,131.7 341.6,130.1 339.4,132.8 341.7,131.2 339.3,134.0 342.0,132.2 340.1,134.5 342.2,133.2 340.2,135.6 342.0,134.5 340.1,136.8 342.5,135.2 340.4,137.7 343.2,135.8 340.7,138.5 343.0,137.1 340.8,139.6 343.3,138.0 341.2,140.5 343.3,139.2 341.1,141.7 344.8,139.1 341.6,142.4 343.6,141.3 341.9,143.3 344.0,142.1 341.9,144.5 344.3,143.0 342.1,145.5 344.3,144.1 342.5,146.3 345.4,144.3 342.7,147.3 344.9,145.9 342.7,148.4 345.1,146.9 343.4,149.0 345.4,147.8 343.5,150.1 345.5,148.9 343.1,151.7 346.3,149.3 343.7,152.3 346.1,150.7 344.0,153.2 346.1,151.9 344.0,154.4 346.7,152.6 344.3,155.3 347.1,153.3 344.7,156.2 346.9,154.7 344.9,157.1 347.2,155.7 344.9,158.3 347.2,156.9 345.6,159.0 347.7,157.6 345.4,160.3 349.3,157.3 345.3,161.6 349.4,158.3 345.8,162.3 348.4,160.6 346.4,163.1 348.5,161.7 346.7,164.0 348.9,162.5 346.9,165.2 349.2,163.1 347.4,166.4 349.1,164.0 348.4,167.4 349.4,163.8 350.2,167.4 349.7,163.4 351.2,166.3 350.1,163.0 352.0,165.3 350.5,162.1 352.5,164.3 350.4,160.3 353.2,163.7 351.9,161.1 354.4,163.6 352.2,160.0 355.0,162.8 352.7,159.1 355.1,161.4 353.1,158.1 355.2,160.1 353.4,156.9 355.6,159.1 353.8,156.0 356.3,158.4 354.3,155.1 356.8,157.5 355.0,154.6 358.4,158.0 355.4,153.7 357.9,156.0 355.8,152.8 358.0,154.7 356.3,152.0 358.8,154.2 356.5,150.9 359.0,153.1 357.1,150.2 359.5,152.3 357.1,148.8 359.8,151.2 357.9,148.3 360.0,150.1 358.3,147.5 360.4,149.1 358.7,146.6 361.0,148.4 359.0,145.7 361.4,147.4 359.1,144.6 361.8,146.5 359.4,143.8 361.6,145.2 359.4,142.6 362.3,144.6 359.7,141.7 363.0,144.1 360.0,140.8 362.5,142.4 360.5,140.1 363.0,141.7 360.9,139.2 363.1,140.6 361.2,138.3 363.3,139.7 361.3,137.2 363.3,138.5 361.3,136.0 363.5,137.5 361.6,134.7 363.6,137.1 362.7,133.2 362.6,137.3 364.0,134.7 362.8,137.2 364.5,135.9 363.1,138.0 365.0,136.7 363.1,139.3 365.7,137.3 363.2,140.4 365.7,138.6 363.8,141.1 366.0,139.5 364.0,142.1 366.5,140.3 364.3,143.0 366.7,141.3 364.6,144.1 367.1,142.1 364.9,145.0 367.2,143.3 364.8,146.4 367.6,144.1 365.6,146.8 368.1,144.9 365.3,148.4 368.2,146.1 366.4,148.5 368.4,147.1 366.7,149.6 368.7,148.1 366.8,150.6 369.2,148.9 367.2,151.5 369.4,150.0 367.2,152.8 369.7,150.9 367.5,153.8 370.3,151.5 368.2,154.4 370.5,152.5 368.4,155.6 371.1,153.2 368.7,156.8 371.1,154.2 369.3,158.1 371.3,154.4 370.7,158.4 371.2,154.2 373.0,160.4 371.4,154.5 373.4,157.6 372.2,154.5 373.7,155.9 372.4,153.5 374.3,155.1 372.7,152.3 374.5,154.0 373.0,151.1 375.2,153.4 373.5,150.2 375.8,152.6 374.3,149.6 376.4,151.8 374.7,148.6 377.1,151.2 375.4,147.9 377.4,150.0 376.3,147.6 378.1,149.4 376.8,146.8 378.9,148.7 377.2,145.9 379.1,147.5 377.6,145.0 379.7,146.7 377.8,144.0 380.1,145.8 378.1,143.0 380.4,144.8 378.7,142.3 380.7,143.9 378.6,141.0 380.7,142.5 378.9,140.0 381.2,141.7 379.2,139.0 381.9,141.1 379.7,138.3 382.2,140.1 380.1,137.4 382.5,139.1 380.5,136.7 382.6,138.0 380.4,135.4 382.6,136.8 379.9,133.8 383.0,136.0 381.1,133.7 382.9,134.8 380.3,131.9 383.6,134.1 381.2,131.4 383.6,133.0 381.9,130.9 384.0,132.2 382.2,130.0 384.2,131.2 382.0,128.6 384.4,130.2 382.1,127.6 384.7,129.3 382.5,126.7 385.0,128.4 383.0,125.9 384.9,127.2 383.3,125.1 385.2,126.3 383.2,123.7 385.6,125.4 383.6,122.9 385.9,124.5 384.1,122.0 386.0,123.3 384.5,121.2 386.9,123.0 384.7,120.2 387.2,122.0 384.5,118.7 387.4,120.9 385.6,118.5 387.6,119.9 385.5,117.2 387.7,118.8 385.5,115.7 387.8,117.8 385.2,113.5 388.5,117.4 387.0,114.2 389.6,117.7 387.7,113.1 389.7,116.2 388.5,112.3 390.4,115.9 389.4,111.4 391.0,115.2 390.5,110.4 391.6,115.1 392.1,111.2 392.2,114.9 393.4,111.2 392.7,115.1 394.2,112.4 393.0,115.8 395.2,113.0 393.5,116.5 396.1,113.3 394.3,117.0 396.2,115.0 394.5,118.3 397.1,115.4 395.2,118.8 397.7,116.2 396.1,119.1 398.2,117.2 396.2,120.5 398.7,118.0 396.5,121.7 399.0,119.1 397.3,122.2 399.2,120.4 397.6,123.2 400.0,120.9 398.5,123.6 400.3,122.0 398.9,124.6 400.6,123.1 399.1,125.9 401.8,122.9 399.8,126.6 402.1,124.1 400.6,127.2 402.5,125.1 401.0,128.1 403.3,125.6 401.5,129.0 404.0,126.3 402.0,130.0 404.2,127.6 402.6,130.8 404.9,128.2 403.1,131.7 405.4,129.1 403.7,132.6 405.9,129.9 404.8,132.6 406.7,130.5 405.2,133.8 407.1,131.6 405.8,134.6 407.9,132.1 406.3,135.7 408.4,133.0 406.8,136.8 409.1,133.5 407.9,137.0 409.6,134.5 408.7,137.8 410.8,134.0 409.7,138.0 411.4,135.0 410.4,138.9 412.0,136.0 411.2,139.7 412.8,136.6 412.1,140.2 413.7,137.0 413.0,140.9 414.6,137.3 414.0,141.1 415.3,137.6 415.1,141.6 416.1,137.6 416.2,142.3 416.8,137.7 417.4,141.5 417.7,137.9 418.4,140.8 418.6,137.9 419.6,141.2 419.5,137.8 420.7,141.2 420.2,136.9 421.8,140.9 421.1,136.9 422.7,140.4 421.8,136.1 423.5,139.3 422.5,135.8 424.4,138.4 423.1,135.3 425.2,137.8 423.5,134.6 425.7,136.8 424.0,134.1 426.0,135.7 424.3,133.0 426.4,134.7 424.8,132.2 426.9,134.0 425.1,131.2 427.5,133.2 425.0,129.8 428.0,132.4 425.5,128.9 428.2,131.2 426.1,128.3 428.3,130.0 426.6,127.5 428.7,129.1 426.8,126.4 429.1,128.2 427.0,125.3 429.6,127.5 427.6,124.7 429.7,126.3 427.6,123.4 430.0,125.3 428.5,123.0 430.2,124.2 428.7,121.8 430.8,123.6 429.2,121.0 431.4,122.9 429.7,120.2 431.9,122.2 430.1,119.0 432.1,120.9 429.9,117.3 432.4,119.8 430.9,117.1 433.5,119.7 431.2,116.0 434.4,119.4 431.7,115.1 434.2,117.7 432.7,114.9 434.7,116.9 433.4,114.2 436.0,117.2 434.1,113.5 435.6,114.9 434.6,112.5 436.6,114.9 435.3,111.8 437.3,114.1 435.7,110.7 438.3,114.0 435.4,108.2 438.2,112.1 436.8,108.7 438.8,111.4 437.7,108.2 439.6,111.2 438.4,107.1 440.1,109.9 439.2,106.5 441.0,109.4 439.6,105.2 442.0,109.3 441.2,106.4 443.1,109.0 441.5,105.1 443.7,107.9 441.6,103.9 444.4,107.1 442.3,103.4 444.8,106.1 442.9,102.5 445.1,105.2 443.7,101.1 445.1,104.5 445.3,100.5 444.6,105.1 446.3,102.2 444.7,105.3 446.9,103.4 445.1,106.1 447.6,103.9 445.1,107.3 447.8,105.1 445.7,107.9 448.1,106.1 445.8,109.1 448.5,106.9 446.4,109.8 448.6,108.0 446.8,110.9 449.2,108.5 447.6,111.5 449.7,109.3 447.9,112.8 450.7,109.2 448.8,113.2 450.7,111.1 449.6,113.8 451.3,111.9 450.0,115.0 451.9,112.6 450.4,116.1 452.9,112.8 451.1,116.8 453.2,114.1 452.1,117.2 453.9,114.7 452.6,118.3 454.5,115.7 453.6,118.3 455.3,116.2 454.2,119.4 456.1,116.7 454.8,120.1 457.0,117.2 455.7,120.5 457.7,118.0 456.1,121.5 458.2,118.9 456.6,122.4 458.9,119.6 457.1,123.5 459.6,120.3 457.8,124.1 460.2,121.1 458.7,124.5 460.5,122.2 459.4,125.3 461.1,123.1 460.2,126.2 461.9,123.4 461.2,126.4 462.8,123.8 461.8,127.4 463.3,124.9 462.8,128.0 464.1,125.1 463.7,128.7 464.9,125.3 464.8,129.5 465.7,125.3 465.9,130.4 466.7,124.7 467.0,128.9 467.7,125.8 468.0,128.8 468.7,125.6 468.9,129.4 469.7,125.7 469.9,129.3 470.7,126.1 470.9,129.9 471.7,125.7 471.9,130.2 472.6,125.6 473.0,129.9 473.5,126.1 474.0,129.4 474.5,126.6 475.0,129.9 475.5,126.6 476.0,129.9 476.5,126.3 477.0,130.3 477.5,126.2 478.0,130.2 478.5,125.8 479.0,131.1 479.5,126.3 480.0,130.3 480.5,126.4 481.0,130.0"/>
<!-- ellipses -->
<g fill="none" stroke="#151515" stroke-width="2">
<ellipse cx="180.3" cy="126.3" rx="41" ry="32.7"/>
<ellipse cx="176" cy="296.7" rx="41.4" ry="32.3"/>
<line x1="264" y1="219" x2="205" y2="167.3"/>
<line x1="277" y1="265" x2="228" y2="295.6"/>
</g>
<polygon fill="#151515" points="197.8,161 210.6,164.3 205.8,168 202.2,172.9"/>
<polygon fill="#151515" points="219.7,300 226.3,289.8 228.2,295.6 232.2,299.2"/>
<!-- text -->
<g class="tr" font-size="19.7" fill="#151515">
<text x="250.8" y="237.5">integral</text>
<text x="241.2" y="262">saturation</text>
</g>
<!-- speed annotation -->
<g stroke="#ff0000" stroke-width="2" fill="none">
<line x1="66.3" y1="336.4" x2="66.3" y2="370.2"/>
<line x1="458.3" y1="337.4" x2="458.3" y2="371.2"/>
<line x1="66.3" y1="355.2" x2="447" y2="355.2" stroke-width="2.1"/>
<line x1="251.6" y1="343.1" x2="287" y2="343.1"/>
</g>
<polygon fill="#ff0000" points="457.3,355.5 445.2,349.4 446.8,355.5 445.2,361.8"/>
<polygon fill="#ff0000" points="298,343.1 285.4,336.9 287,343.1 285.4,349.3"/>
<g class="tr" font-size="19.2" fill="#ff0000">
<text x="112.2" y="349" textLength="49.9" lengthAdjust="spacingAndGlyphs">speed:</text>
<text x="161.8" y="349" textLength="37.1" lengthAdjust="spacingAndGlyphs">200r</text>
<text x="202.4" y="349" text-anchor="middle">·</text>
<text x="206.8" y="349" textLength="33.2" lengthAdjust="spacingAndGlyphs">min</text>
<text x="237.4" y="340.9" font-size="12.5">−1</text>
<text x="302.3" y="349" textLength="47.9" lengthAdjust="spacingAndGlyphs">3000r</text>
<text x="353.1" y="349" text-anchor="middle">·</text>
<text x="356" y="349">min</text>
<text x="386.8" y="340.9" font-size="12.5">−1</text>
</g>
</svg>
</body></html>
